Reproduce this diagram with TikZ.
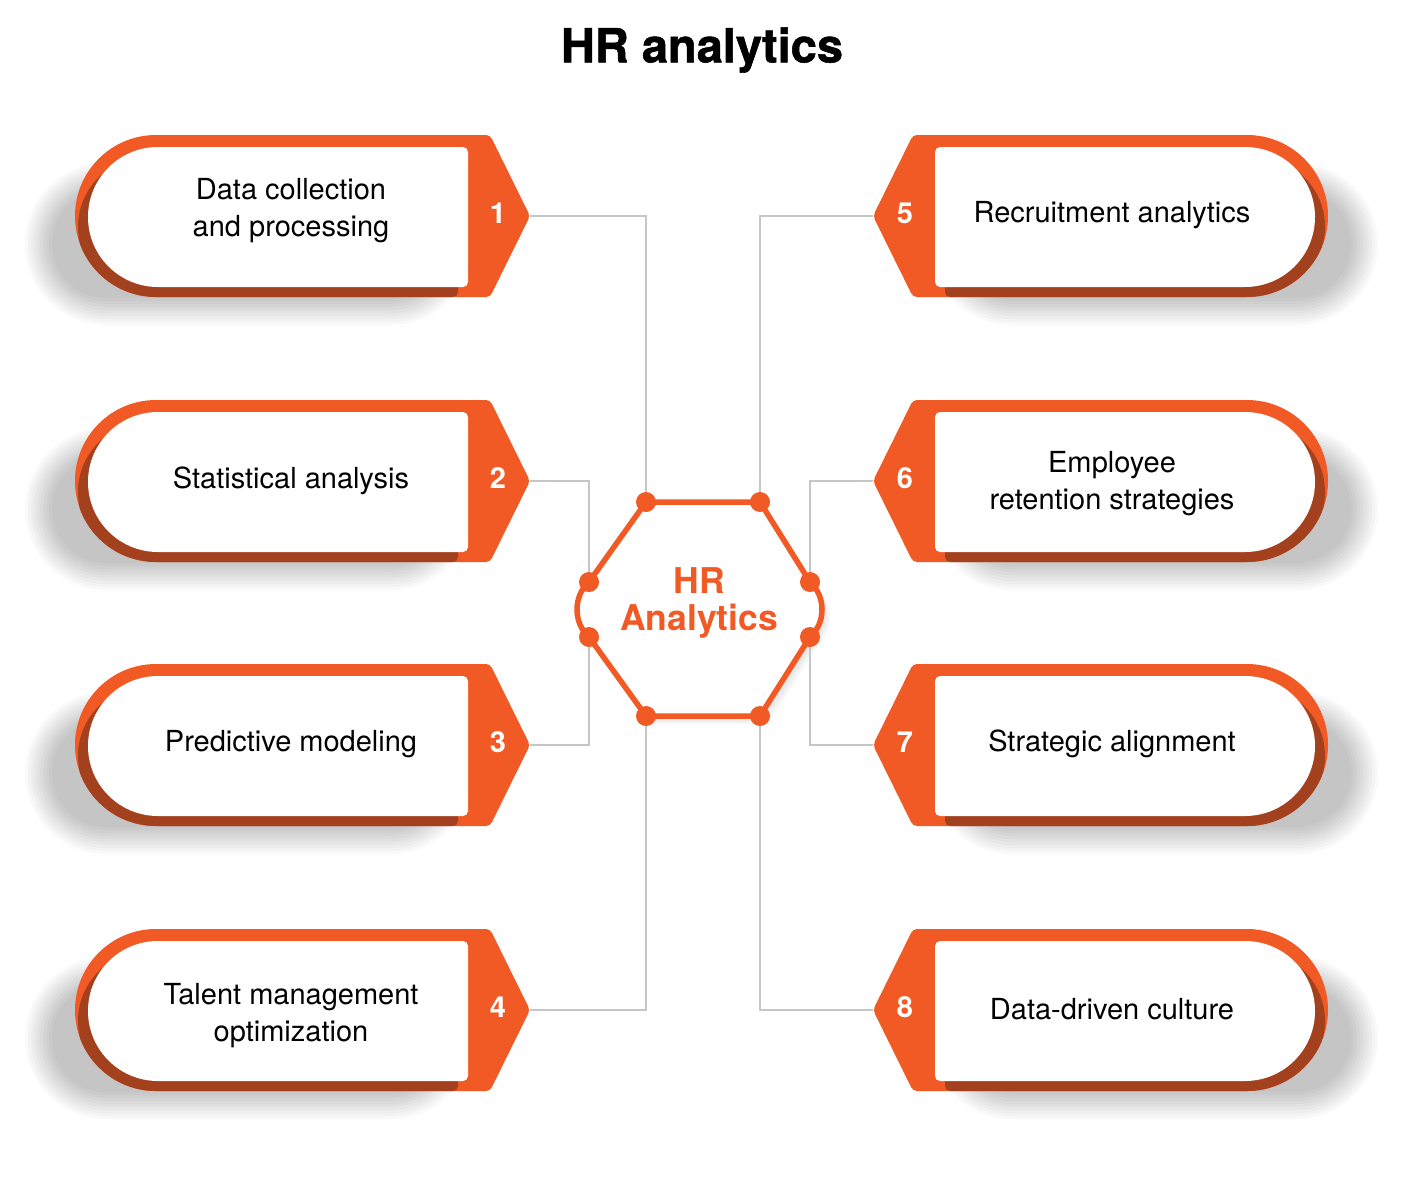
\documentclass[tikz,border=0pt]{standalone}
\usepackage{fontspec}
\setmainfont{TeX Gyre Heros}
\newfontfamily\heavyfont{TeX Gyre Heros}[BoldFeatures={FakeBold=1.2}]
\usetikzlibrary{positioning}

\definecolor{hrorange}{HTML}{F15A24}
\definecolor{hrbrown}{HTML}{A3411F}
\definecolor{hrline}{HTML}{C6C6C6}

\tikzset{
  cardtext/.style={align=center, text=black, font=\fontsize{29}{37}\selectfont, inner sep=0pt},
  cardnum/.style={text=white, font=\bfseries\fontsize{29}{34}\selectfont, inner sep=0pt},
  hubtext/.style={align=center, text=hrorange, font=\bfseries\fontsize{35.5}{37}\selectfont, inner sep=0pt},
  titletext/.style={font=\heavyfont\bfseries\fontsize{47}{50}\selectfont, inner sep=0pt},
  hrdot/.style={circle, fill=hrorange, inner sep=0pt, minimum size=20pt},
  connector/.style={draw=hrline, line width=2pt},
}

% one card, drawn as a left card: #1 text shift, #2 name, #3 centre y, #4 number, #5 text
\newcommand{\hrcard}[5][0]{%
  % soft shadow
  \foreach \s in {0,...,9}{
    \pgfmathsetmacro{\rr}{81-3*\s}
    \fill[black, opacity=0.022, rounded corners=\rr pt]
      ({25+3*\s},{#3-53+3*\s}) rectangle ({472-3*\s},{#3+109-3*\s});
  }
  % orange base with the arrow
  \fill[hrorange, rounded corners=81pt] (300,{#3-81}) -- (75,{#3-81}) -- (75,{#3+81}) -- (300,{#3+81})
    [rounded corners=4pt] -- (490,{#3+81}) -- (530,#3) -- (490,{#3-81}) -- cycle;
  % darker lower shade
  \begin{scope}
    \clip[rounded corners=81pt] (300,{#3-81}) -- (75,{#3-81}) -- (75,{#3+81}) -- (300,{#3+81})
      [rounded corners=4pt] -- (490,{#3+81}) -- (530,#3) -- (490,{#3-81}) -- cycle;
    \fill[hrbrown, rounded corners=70pt] (300,{#3-59}) -- (78,{#3-59}) -- (78,{#3+81}) -- (300,{#3+81})
      [rounded corners=5pt] -- (458,{#3+81}) -- (458,{#3-59}) -- cycle;
  \end{scope}
  % white face
  \fill[white, rounded corners=70pt] (300,{#3-69}) -- (88,{#3-69}) -- (88,{#3+71}) -- (300,{#3+71})
    [rounded corners=5pt] -- (468,{#3+71}) -- (468,{#3-69}) -- cycle;
  % texts
  \node[cardtext] (#2) at (291,{#3+#1}) {#5};
  \node[cardnum] (n#2) at (498,{#3-3}) {#4};
  \coordinate (t#2) at (530,#3);
}

\begin{document}
\begin{tikzpicture}[x=1pt, y=-1pt]
  \useasboundingbox (0,0) rectangle (1403,1200);
  \fill[white] (0,0) rectangle (1403,1200);

  % Title
  \node[titletext] (title) at (702,50) {HR analytics};

  % Left cards
  \hrcard[-5]{c1}{216}{1}{Data collection\\and processing}
  \hrcard[0]{c2}{481}{2}{Statistical analysis}
  \hrcard[-1]{c3}{745}{3}{Predictive modeling}
  \hrcard[6]{c4}{1010}{4}{Talent management\\optimization}

  % Right cards (mirrored)
  \begin{scope}[xshift=1403pt, xscale=-1]
    \hrcard[-1]{c5}{216}{5}{Recruitment analytics}
    \hrcard[3]{c6}{481}{6}{Employee\\retention strategies}
    \hrcard[-1]{c7}{745}{7}{Strategic alignment}
    \hrcard[-1]{c8}{1010}{8}{Data-driven culture}
  \end{scope}

  % Hub shadow
  \foreach \s in {1,...,4}
    \fill[black, opacity=0.03, shift={(2*\s,2*\s)}]
      (646,502) -- (760,502) -- (810,582) .. controls (826,596) and (826,623) .. (810,637)
      -- (760,716) -- (646,716) -- (589,637) .. controls (573,623) and (573,596) .. (589,582) -- cycle;

  % Hub
  \draw[hrorange, line width=5.5pt, fill=white, line join=round]
    (646,502) -- (760,502) -- (810,582) .. controls (826,596) and (826,623) .. (810,637)
    -- (760,716) -- (646,716) -- (589,637) .. controls (573,623) and (573,596) .. (589,582) -- cycle;
  \node[hubtext] (hub) at (699,603) {HR\\Analytics};

  % Hub dots
  \node[hrdot] (d1) at (646,502) {};
  \node[hrdot] (d2) at (589,582) {};
  \node[hrdot] (d3) at (589,637) {};
  \node[hrdot] (d4) at (646,716) {};
  \node[hrdot] (d5) at (760,502) {};
  \node[hrdot] (d6) at (810,582) {};
  \node[hrdot] (d7) at (810,637) {};
  \node[hrdot] (d8) at (760,716) {};

  % Connectors
  \draw[connector] (tc1) -| (d1);
  \draw[connector] (tc2) -| (d2);
  \draw[connector] (tc3) -| (d3);
  \draw[connector] (tc4) -| (d4);
  \draw[connector] (tc5) -| (d5);
  \draw[connector] (tc6) -| (d6);
  \draw[connector] (tc7) -| (d7);
  \draw[connector] (tc8) -| (d8);
\end{tikzpicture}
\end{document}
